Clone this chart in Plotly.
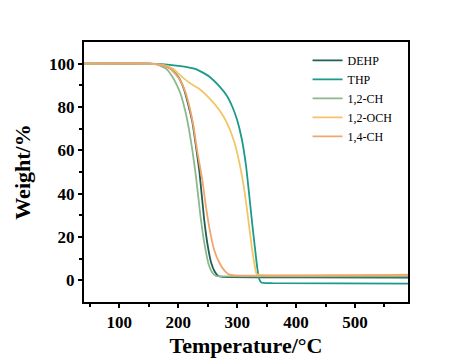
import plotly.graph_objects as go

T_DEHP = [40, 150, 170, 185, 195, 202, 210, 218, 224, 230, 236, 244, 250, 256, 262, 268, 275, 400, 590]
W_DEHP = [100, 100, 99.5, 98, 95.5, 93, 88, 80, 73, 62, 50, 28, 16, 8, 4, 2, 1.6, 1.4, 1.3]

T_THP = [40, 150, 200, 230, 253, 270, 283, 292, 300, 308, 315, 321, 326, 331, 334, 337, 341, 360, 590]
W_THP = [100, 100, 99, 97.5, 94, 89.5, 85, 80, 74, 65, 53, 38, 25, 13, 6, 1, -1, -1.3, -1.5]

T_12CH = [40, 150, 165, 180, 190, 196, 204, 212, 218, 224, 230, 238, 245, 252, 258, 264, 272, 590]
W_12CH = [100, 100, 99.5, 97.5, 94, 91, 86, 78, 70, 60, 48, 29, 16, 7, 3.5, 2, 1.8, 1.8]

T_12OCH = [40, 150, 180, 192, 200, 207, 220, 235, 253, 270, 282, 295, 304, 312, 318, 324, 329, 333, 338, 590]
W_12OCH = [100, 100, 99, 97.5, 95.5, 93.8, 91, 88.5, 84, 78.5, 73, 64, 54, 42, 30, 17, 8, 3, 2.5, 2.6]

T_14CH = [40, 150, 170, 185, 196, 204, 212, 220, 226, 232, 241, 247, 253, 261, 270, 280, 287, 295, 590]
W_14CH = [100, 100, 99.5, 98, 95, 92, 87, 79, 71, 60, 46, 34, 24, 14, 8, 4, 2.6, 2.3, 2.5]

series = [
    ("DEHP", T_DEHP, W_DEHP, "#1f5f55"),
    ("THP", T_THP, W_THP, "#1b9a8a"),
    ("1,2-CH", T_12CH, W_12CH, "#8db88c"),
    ("1,2-OCH", T_12OCH, W_12OCH, "#f2c666"),
    ("1,4-CH", T_14CH, W_14CH, "#f2a66c"),
]

fig = go.Figure()
for name, t, w, c in series:
    fig.add_trace(go.Scatter(x=t, y=w, name=name, mode="lines",
                             line=dict(color=c, width=1.8, shape="spline", smoothing=0.5)))

serif = "Liberation Serif"
axis_common = dict(
    showline=True, linecolor="black", linewidth=2, mirror=True,
    ticks="outside", ticklen=4, tickwidth=1.5, tickcolor="black",
    showgrid=False, zeroline=False, automargin=False,
    tickfont=dict(family=serif, size=17, color="black", weight="bold"),
)
fig.update_xaxes(range=[40, 590], tickvals=[100, 200, 300, 400, 500],
                 minor=dict(tickvals=[50, 150, 250, 350, 450, 550], ticks="outside", ticklen=3, tickcolor="black"),
                 title=dict(text="<b>Temperature/°C</b>", font=dict(family=serif, size=22, color="black"), standoff=6),
                 **axis_common)
fig.update_yaxes(range=[-10, 110], tickvals=[0, 20, 40, 60, 80, 100],
                 minor=dict(tickvals=[10, 30, 50, 70, 90], ticks="outside", ticklen=3, tickcolor="black"),
                 title=dict(text="<b>Weight/%</b>", font=dict(family=serif, size=22, color="black"), standoff=12),
                 **axis_common)

fig.update_layout(
    width=474, height=363,
    margin=dict(l=84, r=66, t=42, b=61),
    plot_bgcolor="white", paper_bgcolor="white",
    legend=dict(x=0.69, y=0.985, xanchor="left", yanchor="top",
                font=dict(family=serif, size=12, color="black"),
                bgcolor="rgba(0,0,0,0)", tracegroupgap=0, itemwidth=30),
)

fig.write_html("out.html", config={"displayModeBar": False},
               post_script="document.body.style.margin='0';document.body.style.overflow='hidden';")
